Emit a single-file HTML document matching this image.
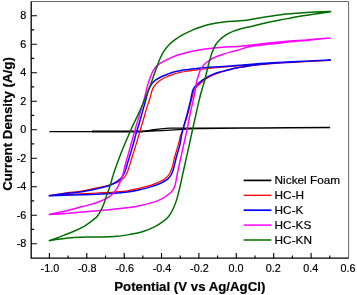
<!DOCTYPE html><html><head><meta charset="utf-8"><title>CV curves</title><style>html,body{margin:0;padding:0;background:#fff}svg{display:block}text{font-family:"Liberation Sans",sans-serif;fill:#000;stroke:#000;stroke-width:0.2px}</style></head><body>
<svg width="357" height="295" viewBox="0 0 357 295">
<rect width="357" height="295" fill="#fff"/>
<path d="M31.2 1.5H348.6V258.2" fill="none" stroke="#666" stroke-width="1"/>
<path d="M31.2 1.5V258.2H348.6" fill="none" stroke="#000" stroke-width="1.3"/>
<path d="M49.4 258.2v-5.3M68.1 258.2v-2.7M86.8 258.2v-5.3M105.5 258.2v-2.7M124.2 258.2v-5.3M142.9 258.2v-2.7M161.5 258.2v-5.3M180.2 258.2v-2.7M198.9 258.2v-5.3M217.6 258.2v-2.7M236.3 258.2v-5.3M255.0 258.2v-2.7M273.7 258.2v-5.3M292.4 258.2v-2.7M311.1 258.2v-5.3M329.8 258.2v-2.7M31.2 243.7h5.7M31.2 229.4h3M31.2 215.2h5.7M31.2 200.9h3M31.2 186.7h5.7M31.2 172.4h3M31.2 158.2h5.7M31.2 143.9h3M31.2 129.7h5.7M31.2 115.4h3M31.2 101.2h5.7M31.2 86.9h3M31.2 72.7h5.7M31.2 58.4h3M31.2 44.2h5.7M31.2 29.9h3M31.2 15.7h5.7" fill="none" stroke="#000" stroke-width="1.1"/>
<path d="M49.4 131.65H93" fill="none" stroke="#000" stroke-width="1.3"/>
<path d="M92 131.4H142.5" fill="none" stroke="#000" stroke-width="2"/>
<path d="M142.0 131.3C143.3 131.1 147.3 130.7 150.0 130.3C152.7 130.0 155.3 129.5 158.0 129.2C160.7 128.9 163.2 128.5 166.0 128.3C168.8 128.1 169.3 128.2 175.0 128.2C180.7 128.1 185.8 128.1 200.0 128.1C214.2 128.1 238.3 128.0 260.0 127.9C281.7 127.8 318.4 127.6 330.1 127.5M142.0 131.5C144.2 131.4 150.3 131.1 155.0 130.9C159.7 130.7 165.3 130.4 170.0 130.2C174.7 129.9 179.3 129.6 183.0 129.4C186.7 129.2 189.2 129.0 192.0 128.8C194.8 128.7 188.7 128.6 200.0 128.5C211.3 128.4 238.3 128.2 260.0 128.1C281.7 127.9 318.4 127.7 330.1 127.6" fill="none" stroke="#000" stroke-width="1.3" stroke-linejoin="round"/>
<path d="M49.3 195.6C51.9 195.2 59.9 193.7 65.0 193.0C70.1 192.3 75.2 192.0 80.0 191.3C84.8 190.6 89.4 189.5 93.6 188.7C97.8 187.8 102.0 187.0 105.4 186.2C108.8 185.3 111.5 184.4 113.9 183.6C116.3 182.8 118.1 182.1 119.8 181.1C121.5 180.1 122.8 179.2 124.1 177.7C125.4 176.1 126.6 173.9 127.5 171.8C128.4 169.7 129.0 167.1 129.7 165.0C130.4 162.9 130.5 162.3 131.5 159.0C132.5 155.7 134.4 150.1 135.8 145.4C137.2 140.7 138.8 135.2 140.0 131.0C141.2 126.8 142.2 123.7 143.3 120.0C144.4 116.3 145.3 112.5 146.4 108.9C147.5 105.4 148.8 101.9 149.8 98.7C150.8 95.5 151.5 91.9 152.3 89.7C153.1 87.5 153.7 87.0 154.5 85.8C155.3 84.6 156.1 83.8 157.3 82.7C158.5 81.6 160.1 80.3 161.8 79.3C163.5 78.3 165.5 77.3 167.4 76.5C169.3 75.7 171.1 74.9 173.0 74.3C174.9 73.7 176.6 73.3 178.6 72.8C180.6 72.3 181.9 72.0 185.0 71.5C188.1 71.0 192.1 70.5 196.9 69.9C201.7 69.3 208.2 68.6 213.9 68.0C219.6 67.4 224.5 67.0 230.8 66.5C237.2 66.0 245.7 65.3 252.0 64.8C258.4 64.3 262.2 63.9 268.9 63.5C275.6 63.1 281.8 62.7 292.0 62.2C302.2 61.7 330.3 60.3 330.3 60.3C330.3 60.3 302.2 61.8 292.0 62.4C281.8 63.0 275.6 63.3 268.9 63.9C262.2 64.5 256.2 65.2 252.0 65.7C247.8 66.2 246.0 66.5 243.5 66.9C241.0 67.3 239.1 67.6 237.0 68.0C234.9 68.4 233.2 68.7 230.8 69.3C228.4 69.9 225.2 70.7 222.4 71.6C219.6 72.5 216.7 73.4 213.9 74.7C211.1 76.0 207.8 77.6 205.4 79.2C203.0 80.8 201.4 82.5 199.6 84.2C197.8 85.9 196.0 86.6 194.6 89.5C193.2 92.4 192.2 97.3 191.0 101.6C189.8 105.9 188.7 110.9 187.5 115.1C186.3 119.3 184.8 123.5 183.6 127.0C182.4 130.5 181.4 133.0 180.5 136.0C179.6 139.0 179.1 141.7 178.1 145.2C177.1 148.7 175.7 153.3 174.7 157.0C173.7 160.7 173.1 164.4 172.2 167.2C171.3 170.0 170.7 172.0 169.4 174.0C168.1 176.0 166.6 177.6 164.6 179.0C162.6 180.4 159.8 181.5 157.5 182.6C155.2 183.7 153.8 184.3 150.5 185.3C147.2 186.3 141.8 187.7 138.0 188.6C134.2 189.5 131.5 190.2 127.5 190.8C123.5 191.4 119.0 191.7 113.9 192.1C108.8 192.5 102.6 192.7 96.9 193.0C91.2 193.3 87.9 193.4 80.0 193.8C72.1 194.2 54.4 195.3 49.3 195.6" fill="none" stroke="#ff0000" stroke-width="1.25" stroke-linejoin="round" stroke-linecap="round"/>
<path d="M49.3 195.8C51.9 195.4 59.9 194.2 65.0 193.6C70.1 193.0 74.7 192.9 80.0 192.1C85.3 191.3 92.1 189.8 96.9 188.7C101.7 187.6 105.5 186.8 108.8 185.7C112.0 184.6 114.3 183.2 116.4 181.9C118.5 180.6 120.1 179.4 121.5 177.7C122.9 176.0 124.0 173.9 124.9 171.8C125.8 169.7 125.8 169.1 127.0 165.0C128.2 160.9 130.8 152.6 132.4 147.1C134.0 141.6 135.3 136.3 136.6 131.9C137.9 127.5 138.7 125.2 140.0 120.5C141.3 115.8 143.3 108.8 144.7 103.8C146.1 98.8 147.4 93.3 148.4 90.3C149.4 87.3 149.9 87.1 150.6 85.8C151.3 84.5 151.9 83.4 152.8 82.4C153.7 81.4 154.7 80.7 156.2 79.7C157.7 78.7 159.9 77.4 161.8 76.5C163.7 75.6 165.5 75.0 167.4 74.3C169.3 73.6 171.1 72.8 173.0 72.3C174.9 71.8 176.6 71.4 178.6 71.0C180.6 70.6 181.9 70.2 185.0 69.8C188.1 69.4 192.1 69.0 196.9 68.5C201.7 68.0 208.2 67.5 213.9 67.1C219.6 66.7 226.5 66.2 230.8 65.9C235.2 65.6 236.5 65.5 240.0 65.2C243.5 64.9 247.2 64.6 252.0 64.2C256.8 63.8 262.2 63.4 268.9 63.0C275.6 62.6 281.8 62.2 292.0 61.7C302.2 61.2 330.3 59.9 330.3 59.9C330.3 59.9 302.2 61.4 292.0 62.0C281.8 62.6 275.6 62.9 268.9 63.4C262.2 63.9 256.2 64.6 252.0 65.2C247.8 65.8 246.0 66.3 243.5 66.8C241.0 67.2 239.1 67.5 237.0 67.9C234.9 68.3 233.2 68.6 230.8 69.2C228.4 69.8 225.2 70.6 222.4 71.4C219.6 72.2 216.7 72.8 213.9 73.9C211.1 75.0 208.0 76.5 205.4 78.1C202.8 79.6 200.6 81.4 198.6 83.2C196.6 85.0 194.7 85.9 193.3 89.0C191.9 92.1 191.4 97.2 190.3 101.6C189.2 105.9 188.0 110.9 186.9 115.1C185.8 119.3 184.5 123.4 183.6 127.0C182.7 130.6 181.9 133.5 181.3 136.5C180.7 139.5 180.6 141.8 179.8 145.2C179.0 148.6 177.4 153.3 176.4 157.0C175.4 160.7 174.7 164.4 173.9 167.2C173.1 170.0 172.6 172.1 171.6 174.0C170.6 175.9 169.8 177.3 168.0 178.8C166.2 180.3 163.5 181.8 160.6 183.2C157.7 184.5 154.2 185.8 150.5 186.9C146.8 188.1 142.3 189.2 138.5 190.1C134.7 191.0 131.6 191.6 127.5 192.1C123.4 192.6 119.0 193.0 113.9 193.3C108.8 193.7 102.6 194.0 96.9 194.2C91.2 194.4 87.9 194.4 80.0 194.7C72.1 195.0 54.4 195.6 49.3 195.8" fill="none" stroke="#0000ff" stroke-width="1.50" stroke-linejoin="round" stroke-linecap="round"/>
<path d="M49.3 214.4C52.0 213.8 59.9 212.3 65.4 211.0C70.9 209.7 78.1 207.7 82.4 206.6C86.7 205.5 88.0 205.3 91.0 204.4C94.0 203.5 97.2 202.4 100.2 201.2C103.2 200.0 106.2 199.0 108.8 197.2C111.4 195.4 113.8 192.8 115.6 190.4C117.4 188.0 118.5 185.6 119.8 182.8C121.1 180.0 122.3 176.5 123.2 173.5C124.1 170.5 124.0 169.7 125.2 165.0C126.5 160.3 129.1 151.2 130.7 145.4C132.3 139.6 133.7 134.5 134.9 130.2C136.1 125.9 136.9 123.1 138.0 119.6C139.1 116.0 140.3 112.7 141.4 108.9C142.5 105.1 143.6 101.0 144.7 97.0C145.8 93.0 146.9 87.8 147.8 84.6C148.7 81.4 149.1 80.3 150.0 77.9C150.9 75.5 152.1 72.5 153.4 70.4C154.7 68.3 155.8 66.7 157.6 65.2C159.3 63.7 161.4 62.6 163.9 61.2C166.4 59.9 169.6 58.3 172.4 57.1C175.2 55.9 177.0 55.2 180.5 54.2C184.0 53.2 189.2 51.9 193.6 51.0C198.0 50.1 202.3 49.4 207.1 48.8C211.9 48.2 217.2 47.7 222.4 47.3C227.6 46.9 233.1 46.8 238.0 46.4C242.9 46.0 246.8 45.6 252.0 45.0C257.1 44.4 262.6 43.7 268.9 43.0C275.2 42.3 283.7 41.5 290.0 41.0C296.3 40.5 300.2 40.4 306.9 39.9C313.6 39.4 330.3 38.0 330.3 38.1C330.3 38.2 313.6 39.8 306.9 40.4C300.2 41.0 294.7 41.3 290.0 41.8C285.3 42.3 283.6 42.8 278.9 43.3C274.2 43.8 266.5 44.4 262.0 44.9C257.5 45.4 255.0 45.8 252.0 46.3C249.0 46.8 246.4 47.5 244.0 48.1C241.6 48.8 239.7 49.6 237.5 50.2C235.3 50.8 233.3 51.2 230.8 51.9C228.3 52.6 225.2 53.5 222.4 54.5C219.6 55.5 216.5 56.5 213.9 57.8C211.3 59.0 209.1 60.5 207.1 62.0C205.1 63.5 203.3 65.4 202.0 67.1C200.7 68.8 200.3 69.9 199.5 72.2C198.7 74.5 197.6 77.9 196.9 80.7C196.2 83.5 196.2 85.5 195.5 89.0C194.8 92.5 193.9 97.0 192.9 101.6C191.9 106.2 190.5 112.0 189.5 116.8C188.5 121.6 188.0 125.4 186.9 130.4C185.8 135.4 184.4 141.6 183.2 146.9C182.0 152.2 180.8 157.6 179.8 162.1C178.8 166.6 178.1 170.2 177.3 174.0C176.5 177.8 175.9 182.3 175.2 185.0C174.4 187.7 173.9 188.6 172.8 190.2C171.7 191.8 170.3 193.0 168.4 194.5C166.5 196.0 164.0 197.8 161.3 199.1C158.6 200.4 156.2 201.4 152.0 202.6C147.8 203.8 141.7 205.4 136.0 206.4C130.3 207.4 124.0 208.1 118.0 208.8C112.0 209.5 105.9 210.0 100.0 210.5C94.1 211.0 88.2 211.4 82.4 211.9C76.6 212.4 70.9 213.2 65.4 213.6C59.9 214.0 52.0 214.3 49.3 214.4" fill="none" stroke="#ff00ff" stroke-width="1.50" stroke-linejoin="round" stroke-linecap="round"/>
<path d="M49.3 240.7C51.1 240.0 56.2 238.2 60.3 236.6C64.4 235.0 69.8 233.0 73.9 231.2C78.0 229.4 82.2 227.4 85.0 225.8C87.8 224.2 88.7 223.3 90.6 221.9C92.5 220.5 94.7 218.9 96.2 217.4C97.7 215.9 98.6 214.6 99.6 212.9C100.6 211.2 101.6 209.2 102.4 207.3C103.2 205.4 103.9 203.8 104.6 201.7C105.3 199.6 105.9 197.4 106.8 195.0C107.7 192.6 108.7 190.3 109.7 187.0C110.8 183.7 111.9 178.9 113.1 175.2C114.2 171.5 115.2 168.8 116.6 165.0C118.0 161.2 119.8 156.3 121.4 152.2C123.0 148.1 124.7 144.2 126.4 140.3C128.1 136.4 130.0 131.9 131.5 128.5C133.0 125.1 133.7 123.8 135.5 120.0C137.3 116.2 140.4 109.6 142.2 105.5C144.0 101.4 145.0 98.8 146.4 95.3C147.8 91.8 149.3 87.9 150.7 84.3C152.0 80.7 153.3 76.8 154.5 73.4C155.7 70.0 157.0 66.5 158.0 63.9C159.0 61.3 159.3 60.1 160.3 58.0C161.3 55.9 162.4 53.6 163.8 51.4C165.2 49.2 166.9 47.0 168.8 45.0C170.7 43.0 172.9 41.1 175.4 39.3C177.9 37.5 181.1 35.7 183.9 34.2C186.7 32.7 189.6 31.3 192.4 30.1C195.2 28.9 197.9 28.0 200.8 27.0C203.7 26.0 206.2 25.1 210.0 24.3C213.8 23.5 219.3 22.6 223.9 22.0C228.5 21.4 233.5 21.3 237.5 21.0C241.5 20.7 243.9 20.6 248.0 20.0C252.1 19.4 256.9 18.4 262.0 17.6C267.1 16.8 273.3 15.7 278.9 15.0C284.5 14.3 291.1 13.7 295.8 13.3C300.5 12.9 301.1 12.7 306.9 12.4C312.6 12.1 328.0 11.4 330.3 11.5C332.6 11.6 324.4 12.6 320.5 13.2C316.6 13.8 311.0 14.6 306.9 15.2C302.8 15.8 298.6 16.5 295.8 17.0C293.0 17.5 292.8 17.7 290.0 18.2C287.2 18.7 283.6 19.3 278.9 20.2C274.2 21.1 266.8 22.6 262.0 23.7C257.2 24.8 253.5 25.9 250.0 26.7C246.5 27.5 243.7 27.9 240.8 28.7C237.9 29.5 234.9 30.5 232.4 31.6C229.9 32.7 227.7 33.8 225.6 35.2C223.5 36.6 221.5 38.2 219.8 39.8C218.1 41.4 216.7 43.0 215.5 45.0C214.3 47.0 213.4 49.0 212.4 51.5C211.4 54.0 210.6 57.1 209.7 60.3C208.8 63.5 207.9 67.1 207.1 70.5C206.2 73.9 205.4 77.6 204.6 80.7C203.8 83.8 203.1 85.5 202.1 89.0C201.1 92.5 199.9 97.0 198.8 101.6C197.7 106.2 196.5 111.7 195.4 116.8C194.3 121.9 193.0 127.4 192.0 132.1C191.0 136.8 190.2 140.5 189.2 145.2C188.2 149.9 186.9 155.3 185.8 160.4C184.7 165.5 183.4 171.2 182.4 175.7C181.4 180.2 180.7 183.7 179.8 187.5C178.9 191.3 178.1 195.0 177.0 198.6C175.9 202.2 174.6 205.8 173.2 208.8C171.8 211.8 170.5 214.1 168.6 216.4C166.7 218.7 164.1 220.7 161.8 222.4C159.5 224.1 158.2 225.0 155.0 226.6C151.8 228.2 146.5 230.5 142.4 231.8C138.3 233.1 134.8 233.6 130.5 234.3C126.2 235.1 122.0 235.9 116.9 236.3C111.8 236.8 104.9 236.9 100.0 237.0C95.1 237.1 91.8 236.8 87.5 236.9C83.2 237.0 78.4 237.2 73.9 237.6C69.4 237.9 64.4 238.5 60.3 239.0C56.2 239.5 51.1 240.4 49.3 240.7" fill="none" stroke="#006e00" stroke-width="1.50" stroke-linejoin="round" stroke-linecap="round"/>
<text x="49.9" y="271.9" font-size="10.8" text-anchor="middle">-1.0</text>
<text x="87.3" y="271.9" font-size="10.8" text-anchor="middle">-0.8</text>
<text x="124.7" y="271.9" font-size="10.8" text-anchor="middle">-0.6</text>
<text x="162.0" y="271.9" font-size="10.8" text-anchor="middle">-0.4</text>
<text x="199.4" y="271.9" font-size="10.8" text-anchor="middle">-0.2</text>
<text x="235.9" y="271.9" font-size="10.8" text-anchor="middle">0.0</text>
<text x="273.3" y="271.9" font-size="10.8" text-anchor="middle">0.2</text>
<text x="310.7" y="271.9" font-size="10.8" text-anchor="middle">0.4</text>
<text x="348.0" y="271.9" font-size="10.8" text-anchor="middle">0.6</text>
<text x="26.3" y="247.3" font-size="10.8" text-anchor="end">-8</text>
<text x="26.3" y="218.8" font-size="10.8" text-anchor="end">-6</text>
<text x="26.3" y="190.3" font-size="10.8" text-anchor="end">-4</text>
<text x="26.3" y="161.8" font-size="10.8" text-anchor="end">-2</text>
<text x="26.3" y="133.3" font-size="10.8" text-anchor="end">0</text>
<text x="26.3" y="104.8" font-size="10.8" text-anchor="end">2</text>
<text x="26.3" y="76.3" font-size="10.8" text-anchor="end">4</text>
<text x="26.3" y="47.8" font-size="10.8" text-anchor="end">6</text>
<text x="26.3" y="19.3" font-size="10.8" text-anchor="end">8</text>
<text x="189.8" y="290.5" font-size="13.25" font-weight="bold" text-anchor="middle">Potential (V vs Ag/AgCl)</text>
<text transform="translate(11.5 124) rotate(-90)" font-size="13.3" font-weight="bold" text-anchor="middle">Current Density (A/g)</text>
<path d="M243.6 180.4H271.4" stroke="#000" stroke-width="1.7"/>
<text x="274.6" y="184.2" font-size="11.8">Nickel Foam</text>
<path d="M243.6 195.3H271.4" stroke="#ff0000" stroke-width="1.3"/>
<text x="274.6" y="199.1" font-size="11.8">HC-H</text>
<path d="M243.6 210.2H271.4" stroke="#0000ff" stroke-width="1.7"/>
<text x="274.6" y="214.0" font-size="11.8">HC-K</text>
<path d="M243.6 225.1H271.4" stroke="#ff00ff" stroke-width="1.5"/>
<text x="274.6" y="228.9" font-size="11.8">HC-KS</text>
<path d="M243.6 240.0H271.4" stroke="#006e00" stroke-width="1.5"/>
<text x="274.6" y="243.8" font-size="11.8">HC-KN</text>
</svg></body></html>
